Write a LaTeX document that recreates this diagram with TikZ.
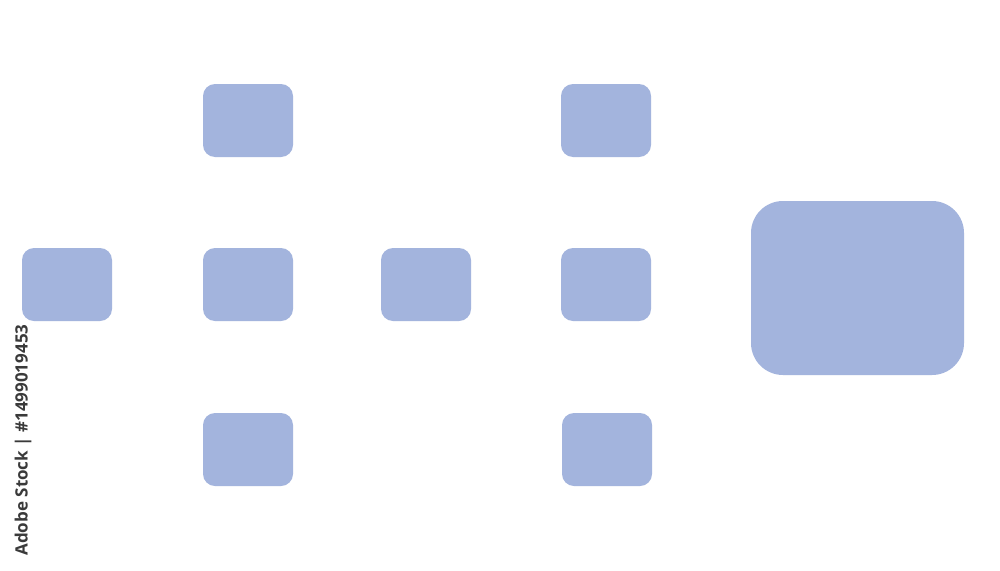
\documentclass[tikz,border=0pt]{standalone}
\usepackage{fontspec}
\setmainfont{Open Sans}
\definecolor{boxblue}{HTML}{A3B4DD}
\definecolor{wmgray}{HTML}{3A3A3A}
\begin{document}
\begin{tikzpicture}[x=1pt,y=-1pt,
  bx/.style={fill=boxblue,draw=none,rounded corners=12pt,minimum width=90pt,minimum height=73pt,inner sep=0pt,outer sep=0pt},
  big/.style={fill=boxblue,draw=none,rounded corners=32pt,minimum width=213pt,minimum height=174pt,inner sep=0pt,outer sep=0pt}]
\useasboundingbox[fill=white] (0,0) rectangle (1000,570);
\node[bx] (a) at (67,284.5) {};
\node[bx] (b1) at (248,120.5) {};
\node[bx] (b2) at (248,284.5) {};
\node[bx] (b3) at (248,449.5) {};
\node[bx] (c) at (426,284.5) {};
\node[bx] (d1) at (606,120.5) {};
\node[bx] (d2) at (606,284.5) {};
\node[bx] (d3) at (607,449.5) {};
\node[big] (e) at (857.5,288) {};
\node[rotate=90,text=wmgray,font=\fontsize{17}{17}\selectfont\bfseries,anchor=center,inner sep=0pt] (wm) at (23,440) {Adobe Stock | \#1499019453};
\end{tikzpicture}
\end{document}
